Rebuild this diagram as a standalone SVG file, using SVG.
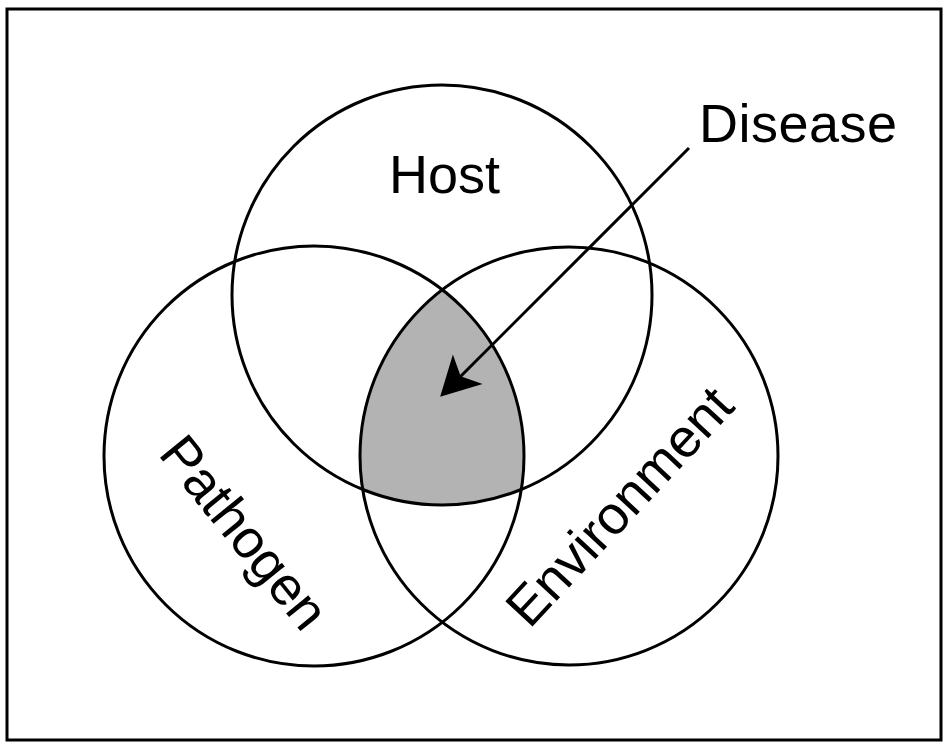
<svg xmlns="http://www.w3.org/2000/svg" width="950" height="751" viewBox="0 0 950 751">
  <style>
    .ring { fill: none; stroke: #000; stroke-width: 3; }
    .label { font-family: "Liberation Sans", Arial, sans-serif; font-size: 54px; fill: #000; }
    .conn { stroke: #000; stroke-width: 3; fill: none; }
  </style>
  <defs>
    <clipPath id="clipPathogen"><circle cx="314" cy="456" r="210"/></clipPath>
    <clipPath id="clipEnv"><circle cx="569" cy="456" r="209"/></clipPath>
    <marker id="arrowHead" markerUnits="userSpaceOnUse" markerWidth="60" markerHeight="60" refX="-21" refY="0" orient="auto" overflow="visible">
      <path d="M0,0 L-39,-21 L-29,0 L-39,21 Z" fill="#000"/>
    </marker>
  </defs>
  <rect x="0" y="0" width="950" height="751" fill="#fff"/>
  <rect x="7" y="9" width="934" height="731" fill="#fff" stroke="#000" stroke-width="3"/>

  <g id="disease-region">
    <g clip-path="url(#clipPathogen)">
      <g clip-path="url(#clipEnv)">
        <circle cx="442" cy="295" r="210" fill="#b3b3b3"/>
      </g>
    </g>
  </g>

  <g id="host">
    <circle class="ring" cx="442" cy="295" r="210"/>
    <text class="label" x="389" y="193" textLength="111">Host</text>
  </g>
  <g id="pathogen">
    <circle class="ring" cx="314" cy="456" r="210"/>
    <text class="label" text-anchor="middle" transform="translate(230,544) rotate(51)">Pathogen</text>
  </g>
  <g id="environment">
    <circle class="ring" cx="569" cy="456" r="209"/>
    <text class="label" text-anchor="middle" transform="translate(633,519) rotate(-47)">Environment</text>
  </g>
  <g id="disease">
    <text class="label" x="699" y="142" textLength="198">Disease</text>
  </g>

  <g id="connectors">
    <line class="conn" x1="689" y1="148" x2="455" y2="382" marker-end="url(#arrowHead)"/>
  </g>
</svg>
